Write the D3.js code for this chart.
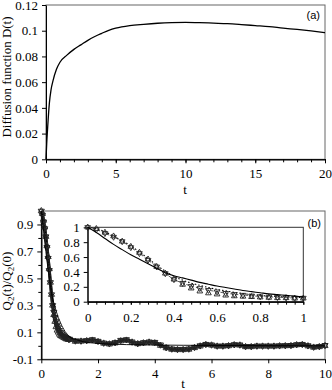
<!DOCTYPE html>
<html>
<head>
<meta charset="utf-8">
<script src="https://cdn.jsdelivr.net/npm/d3@7"></script>
<style>
  body { margin: 0; background: #fff; }
  text { font-family: "Liberation Serif", "Times New Roman", serif; }
</style>
</head>
<body>
<div id="chart"></div>
<script>
// ---- panel (a): diffusion function D(t)
const tA = [0, 0.05, 0.12, 0.24, 0.36, 0.5, 0.75, 1, 1.5, 2, 2.5, 3, 3.5, 4, 4.5, 5, 6, 7, 8, 9, 10, 11, 12, 13, 14, 15, 16, 17, 18, 19, 20];
const dA = [0, 0.012, 0.025, 0.0435, 0.054, 0.061, 0.070, 0.0755, 0.081, 0.0855, 0.089, 0.0925, 0.0955, 0.098, 0.1003, 0.102, 0.104, 0.105, 0.1058, 0.1063, 0.1065, 0.1063, 0.1059, 0.1055, 0.1048, 0.104, 0.1032, 0.102, 0.101, 0.0998, 0.0985];
const yTicksA = [0, 0.02, 0.04, 0.06, 0.08, 0.1, 0.12];
const xTicksA = [0, 5, 10, 15, 20];

// ---- panel (b): Q2(t)/Q2(0), short times (inset, also start of main plot)
const tIn = [0, 0.04, 0.08, 0.12, 0.16, 0.2, 0.24, 0.28, 0.32, 0.36, 0.4, 0.44, 0.48, 0.52, 0.56, 0.6, 0.64, 0.68, 0.72, 0.76, 0.8, 0.84, 0.88, 0.92, 0.96, 1];
const theoryIn = [1, 0.93, 0.85, 0.77, 0.70, 0.63, 0.57, 0.51, 0.45, 0.39, 0.35, 0.32, 0.29, 0.26, 0.235, 0.21, 0.19, 0.17, 0.15, 0.135, 0.12, 0.105, 0.095, 0.085, 0.075, 0.065];
const simAIn = [1, 0.97, 0.92, 0.87, 0.81, 0.73, 0.65, 0.56, 0.47, 0.38, 0.30, 0.25, 0.21, 0.18, 0.155, 0.135, 0.115, 0.10, 0.09, 0.08, 0.07, 0.065, 0.06, 0.055, 0.05, 0.05];
const simBIn = [1, 0.98, 0.93, 0.88, 0.81, 0.74, 0.66, 0.57, 0.47, 0.38, 0.30, 0.23, 0.18, 0.14, 0.115, 0.10, 0.085, 0.075, 0.07, 0.065, 0.06, 0.055, 0.05, 0.05, 0.045, 0.045];
const simCIn = [1, 0.98, 0.94, 0.88, 0.82, 0.75, 0.67, 0.58, 0.49, 0.41, 0.34, 0.29, 0.25, 0.22, 0.19, 0.165, 0.145, 0.125, 0.11, 0.095, 0.085, 0.075, 0.07, 0.065, 0.06, 0.055];

// long times (main plot, t > 1)
const tLong = [1.2, 1.4, 1.6, 1.8, 2.0, 2.2, 2.4, 2.6, 2.8, 3.0, 3.2, 3.4, 3.6, 3.8, 4.0, 4.2, 4.4, 4.6, 4.8, 5.0, 5.2, 5.4, 5.6, 5.8, 6.0, 6.2, 6.4, 6.6, 6.8, 7.0, 7.2, 7.4, 7.6, 7.8, 8.0, 8.2, 8.4, 8.6, 8.8, 9.0, 9.2, 9.4, 9.6, 9.8, 10.0];
const simALong = [0.038, 0.037, 0.04, 0.047, 0.035, 0.022, 0.017, 0.025, 0.042, 0.047, 0.03, 0.018, 0.025, 0.03, 0.027, 0.008, -0.012, -0.022, -0.025, -0.025, -0.022, -0.01, 0.002, 0.012, 0.008, 0.0, 0.0, 0.003, 0.01, 0.008, -0.004, -0.004, 0.0, 0.0, 0.0, 0.0, 0.002, 0.003, 0.004, 0.01, 0.012, 0.002, -0.008, -0.004, 0.004];
const simBLong = [0.032, 0.033, 0.036, 0.04, 0.03, 0.018, 0.012, 0.02, 0.035, 0.04, 0.026, 0.014, 0.02, 0.026, 0.02, 0.002, -0.016, -0.027, -0.03, -0.03, -0.027, -0.015, -0.003, 0.008, 0.004, -0.004, -0.004, -0.001, 0.006, 0.004, -0.008, -0.008, -0.004, -0.004, -0.004, -0.004, -0.002, -0.001, 0.0, 0.006, 0.008, -0.002, -0.012, -0.008, 0.0];
const tTheoryLong = [1.25, 1.5, 2, 2.5, 3, 4, 5, 6, 8, 10];
const theoryLong = [0.045, 0.03, 0.018, 0.012, 0.009, 0.006, 0.004, 0.003, 0.001, 0.0];

const yTicksB = [-0.1, 0.1, 0.3, 0.5, 0.7, 0.9];
const yMinorB = [0, 0.2, 0.4, 0.6, 0.8];
const xTicksB = [0, 2, 4, 6, 8, 10];
const ticksIn = [0, 0.2, 0.4, 0.6, 0.8, 1];

const W = 332, H = 390;
const FS = 13;
const fmt = d => d3.format('~g')(d).replace('\u2212', '-');

const svg = d3.select('#chart').append('svg')
  .attr('width', W).attr('height', H);

function styleAxis(g) {
  g.attr('font-size', FS).attr('font-family', null);
  g.selectAll('text').attr('fill', '#000');
  g.selectAll('line').attr('stroke', '#000');
  g.select('.domain').attr('stroke', '#000');
}

const zip = (xs, ys) => xs.map((x, i) => [x, ys[i]]);

// ================= panel (a) =================
const xA = d3.scaleLinear().domain([0, 20]).range([46, 325]);
const yA = d3.scaleLinear().domain([0, 0.12]).range([159.3, 5]);

svg.append('rect')
  .attr('x', xA(0)).attr('y', yA(0.12))
  .attr('width', xA(20) - xA(0)).attr('height', yA(0) - yA(0.12))
  .attr('fill', 'none').attr('stroke', '#666');

svg.append('g')
  .attr('transform', `translate(0,${yA(0)})`)
  .call(d3.axisBottom(xA).tickValues(d3.range(0, 21)).tickSize(3).tickSizeOuter(0).tickFormat(''))
  .call(styleAxis);
svg.append('g')
  .attr('transform', `translate(0,${yA(0)})`)
  .call(d3.axisBottom(xA).tickValues(xTicksA).tickSize(4).tickSizeOuter(0).tickPadding(5).tickFormat(fmt))
  .call(styleAxis);
svg.append('g')
  .attr('transform', `translate(${xA(0)},0)`)
  .call(d3.axisLeft(yA).tickValues(yTicksA).tickSize(4).tickSizeOuter(0).tickPadding(4).tickFormat(fmt))
  .call(styleAxis);

svg.append('path')
  .datum(zip(tA, dA))
  .attr('fill', 'none').attr('stroke', '#000').attr('stroke-width', 1.3)
  .attr('d', d3.line().x(d => xA(d[0])).y(d => yA(d[1])).curve(d3.curveMonotoneX));

svg.append('text').attr('x', 185).attr('y', 194)
  .attr('text-anchor', 'middle').attr('font-size', FS).text('t');
svg.append('text').attr('transform', 'translate(11,77) rotate(-90)')
  .attr('text-anchor', 'middle').attr('font-size', FS).text('Diffusion function D(t)');
svg.append('text').attr('x', 320).attr('y', 19).attr('text-anchor', 'end')
  .attr('font-size', 11).style('font-family', '"Liberation Sans", Arial, sans-serif').text('(a)');

// ================= panel (b) =================
const xB = d3.scaleLinear().domain([0, 10]).range([41.3, 325]);
const yB = d3.scaleLinear().domain([-0.1, 1.0]).range([359.3, 211]);

svg.append('rect')
  .attr('x', xB(0)).attr('y', yB(1.0))
  .attr('width', xB(10) - xB(0)).attr('height', yB(-0.1) - yB(1.0))
  .attr('fill', 'none').attr('stroke', '#666');

svg.append('g')
  .attr('transform', `translate(0,${yB(-0.1)})`)
  .call(d3.axisBottom(xB).tickValues(xTicksB).tickSize(4).tickSizeOuter(0).tickPadding(5).tickFormat(fmt))
  .call(styleAxis);
svg.append('g')
  .attr('transform', `translate(${xB(0)},0)`)
  .call(d3.axisLeft(yB).tickValues(yMinorB).tickSize(3).tickSizeOuter(0).tickFormat(''))
  .call(styleAxis);
svg.append('g')
  .attr('transform', `translate(${xB(0)},0)`)
  .call(d3.axisLeft(yB).tickValues(yTicksB).tickSize(4).tickSizeOuter(0).tickPadding(4).tickFormat(fmt))
  .call(styleAxis);

const lineB = d3.line().x(d => xB(d[0])).y(d => yB(d[1]));
const simAMain = zip(tIn.concat(tLong), simAIn.concat(simALong));
const simBMain = zip(tIn.concat(tLong), simBIn.concat(simBLong));
const simCMain = zip(tIn, simCIn);
const theoryMain = zip(tIn.concat(tTheoryLong), theoryIn.concat(theoryLong));

const gB = svg.append('g');
gB.append('path').datum(simBMain)
  .attr('fill', 'none').attr('stroke', '#2a2a2a').attr('stroke-width', 3).attr('d', lineB.curve(d3.curveMonotoneX));
gB.append('path').datum(simAMain)
  .attr('fill', 'none').attr('stroke', '#222').attr('stroke-width', 3).attr('d', lineB.curve(d3.curveMonotoneX));
gB.append('path').datum(simCMain)
  .attr('fill', 'none').attr('stroke', '#000').attr('stroke-width', 1).attr('stroke-dasharray', '1.5,1.5').attr('d', lineB);

const triUp = d3.symbol().type(d3.symbolTriangle).size(16);
gB.selectAll('.mb').data(simBMain).join('path').attr('class', 'mb')
  .attr('transform', d => `translate(${xB(d[0])},${yB(d[1])})`)
  .attr('d', triUp).attr('fill', 'none').attr('stroke', '#333').attr('stroke-width', 1);
gB.selectAll('.ma').data(simAMain).join('path').attr('class', 'ma')
  .attr('transform', d => `translate(${xB(d[0])},${yB(d[1])}) rotate(180)`)
  .attr('d', triUp).attr('fill', 'none').attr('stroke', '#222').attr('stroke-width', 1);

gB.append('path').datum(theoryMain)
  .attr('fill', 'none').attr('stroke', '#000').attr('stroke-width', 0.9)
  .attr('d', lineB.curve(d3.curveMonotoneX));

svg.append('text').attr('x', 183).attr('y', 388)
  .attr('text-anchor', 'middle').attr('font-size', FS).text('t');
const yl = svg.append('text').attr('transform', 'translate(11,281) rotate(-90)')
  .attr('text-anchor', 'middle').attr('font-size', FS);
yl.append('tspan').text('Q');
yl.append('tspan').attr('font-size', 9).attr('dy', 3).text('2');
yl.append('tspan').attr('dy', -3).text('(t)/Q');
yl.append('tspan').attr('font-size', 9).attr('dy', 3).text('2');
yl.append('tspan').attr('dy', -3).text('(0)');
svg.append('text').attr('x', 321).attr('y', 227).attr('text-anchor', 'end')
  .attr('font-size', 11).style('font-family', '"Liberation Sans", Arial, sans-serif').text('(b)');

// ================= inset =================
const xI = d3.scaleLinear().domain([0, 1]).range([87.7, 303.3]);
const yI = d3.scaleLinear().domain([0, 1]).range([301.7, 227.3]);

svg.append('rect')
  .attr('x', xI(0)).attr('y', yI(1))
  .attr('width', xI(1) - xI(0)).attr('height', yI(0) - yI(1))
  .attr('fill', '#fff').attr('stroke', '#333');

svg.append('g')
  .attr('transform', `translate(0,${yI(0)})`)
  .call(d3.axisBottom(xI).tickValues(tIn).tickSize(3).tickSizeOuter(0).tickFormat(''))
  .call(styleAxis);
svg.append('g')
  .attr('transform', `translate(0,${yI(0)})`)
  .call(d3.axisBottom(xI).tickValues(ticksIn).tickSize(3).tickSizeOuter(0).tickPadding(8).tickFormat(fmt))
  .call(styleAxis);
svg.append('g')
  .attr('transform', `translate(${xI(0)},0)`)
  .call(d3.axisLeft(yI).tickValues(ticksIn).tickSize(4).tickSizeOuter(0).tickPadding(4).tickFormat(fmt))
  .call(styleAxis);

const lineI = d3.line().x(d => xI(d[0])).y(d => yI(d[1])).curve(d3.curveMonotoneX);
const gI = svg.append('g');
gI.append('path').datum(zip(tIn, simCIn))
  .attr('fill', 'none').attr('stroke', '#000').attr('stroke-width', 1.1).attr('stroke-dasharray', '1.5,2').attr('d', lineI);
gI.append('path').datum(zip(tIn, simAIn))
  .attr('fill', 'none').attr('stroke', '#333').attr('stroke-width', 0.8).attr('stroke-dasharray', '3,2').attr('d', lineI);
gI.selectAll('.ia').data(zip(tIn, simAIn)).join('path').attr('class', 'ia')
  .attr('transform', d => `translate(${xI(d[0])},${yI(d[1])}) rotate(180)`)
  .attr('d', d3.symbol().type(d3.symbolTriangle).size(14)).attr('fill', 'none').attr('stroke', '#222').attr('stroke-width', 0.9);
gI.selectAll('.ib').data(zip(tIn, simBIn)).join('path').attr('class', 'ib')
  .attr('transform', d => `translate(${xI(d[0])},${yI(d[1])})`)
  .attr('d', d3.symbol().type(d3.symbolTriangle).size(14)).attr('fill', 'none').attr('stroke', '#222').attr('stroke-width', 0.9);
gI.append('path').datum(zip(tIn, theoryIn))
  .attr('fill', 'none').attr('stroke', '#000').attr('stroke-width', 1.1).attr('d', lineI);
</script>
</body>
</html>
